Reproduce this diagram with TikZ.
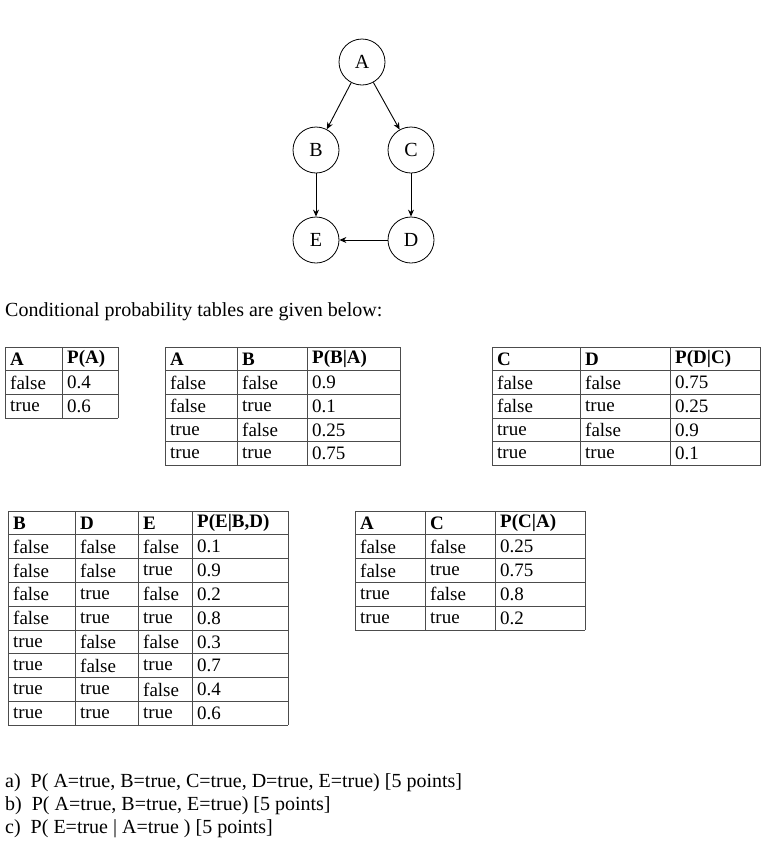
\documentclass[tikz,border=0pt]{standalone}
\usepackage{fontspec}
\setmainfont{Liberation Serif}
\usetikzlibrary{arrows.meta}
\tikzset{
  vtx/.style={circle,draw,thick,minimum size=46pt,inner sep=0pt,font=\fontsize{20}{24}\selectfont},
  edge/.style={-{Stealth[length=7pt,width=6pt]},line width=0.9pt},
  cell/.style={anchor=west,inner sep=0pt,font=\fontsize{19}{22}\selectfont},
  txt/.style={anchor=west,inner sep=0pt,font=\fontsize{20}{24}\selectfont},
  grid/.style={draw=black!70,line width=0.7pt}
}
\newcommand{\mytable}[7]{%
  \foreach \rr in {0,...,#6}{\draw[grid] ({#2[0]},{#4+\rr*#5}) -- ({#2[#3]},{#4+\rr*#5});}
  \foreach \cc in {0,...,#3}{\draw[grid] ({#2[\cc]},#4) -- ({#2[\cc]},{#4+#6*#5});}
  \foreach \row [count=\r] in {#7}{
    \foreach \cel [count=\c] in \row{
      \pgfmathsetmacro\cx{#2[\c-1]+5}
      \pgfmathsetmacro\cy{#4+(\r-0.5)*#5}
      \node[cell] (#1-\r-\c) at (\cx,\cy) {\ifnum\r=1 \textbf{\cel}\else\cel\fi};
    }
  }
}
\begin{document}
\begin{tikzpicture}[x=1pt,y=-1pt]
\useasboundingbox (0,0) rectangle (769,863);
\node[vtx] (A) at (362,62) {A};
\node[vtx] (B) at (316,150) {B};
\node[vtx] (C) at (411,150) {C};
\node[vtx] (E) at (316,240) {E};
\node[vtx] (D) at (411,240) {D};
\draw[edge] (A) -- (B);
\draw[edge] (A) -- (C);
\draw[edge] (B) -- (E);
\draw[edge] (C) -- (D);
\draw[edge] (D) -- (E);
\node[txt] (title) at (5,312) {Conditional probability tables are given below:};
\mytable{ta}{{5,62,118}}{2}{347}{23.7}{3}{{A,P(A)},{false,0.4},{true,0.6}}
\mytable{tb}{{165,237,307,400}}{3}{347}{23.7}{5}{{A,B,P(B|A)},{false,false,0.9},{false,true,0.1},{true,false,0.25},{true,true,0.75}}
\mytable{tc}{{492,580,670,760}}{3}{347}{23.7}{5}{{C,D,P(D|C)},{false,false,0.75},{false,true,0.25},{true,false,0.9},{true,true,0.1}}
\mytable{td}{{8,75,138,192,288}}{4}{511}{23.8}{9}{{B,D,E,P(E|B{,}D)},{false,false,false,0.1},{false,false,true,0.9},{false,true,false,0.2},{false,true,true,0.8},{true,false,false,0.3},{true,false,true,0.7},{true,true,false,0.4},{true,true,true,0.6}}
\mytable{te}{{355,425,495,585}}{3}{511}{23.8}{5}{{A,C,P(C|A)},{false,false,0.25},{false,true,0.75},{true,false,0.8},{true,true,0.2}}
\node[txt] (qa) at (5,783) {a)\enspace P( A=true, B=true, C=true, D=true, E=true) [5 points]};
\node[txt] (qb) at (5,806) {b)\enspace P( A=true, B=true, E=true) [5 points]};
\node[txt] (qc) at (5,829) {c)\enspace P( E=true | A=true ) [5 points]};
\end{tikzpicture}
\end{document}
